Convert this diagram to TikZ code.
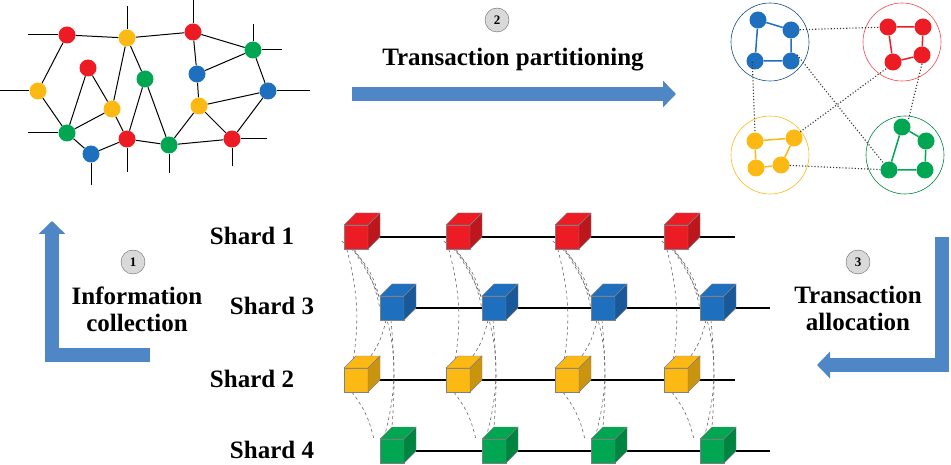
\documentclass[tikz,border=0pt]{standalone}
\usepackage{fontspec}
\setmainfont{Liberation Serif}
\usetikzlibrary{arrows.meta,shapes.geometric,backgrounds}
\definecolor{cR}{HTML}{ED1C24}
\definecolor{cB}{HTML}{1F6FBF}
\definecolor{cY}{HTML}{FDB913}
\definecolor{cG}{HTML}{00A651}
\definecolor{cA}{HTML}{4F86C6}
\tikzset{
 gn/.style={circle,minimum size=17pt,inner sep=0,fill=#1},
 cn/.style={circle,minimum size=17pt,inner sep=0,fill=#1},
 ed/.style={line width=1pt,black},
 ring/.style={draw=#1,line width=0.6pt,circle,minimum size=78pt,inner sep=0},
 dots/.style={dotted,line width=1.1pt,black!80},
 big/.style={line width=14pt,cA,-{Triangle[length=13pt,width=26pt]}},
 num/.style={circle,draw=black!60,fill=black!15,minimum size=24pt,inner sep=0,font=\fontsize{13}{14}\selectfont\bfseries},
 lab/.style={font=\fontsize{25}{27}\selectfont\bfseries,align=center},
 sl/.style={ed,line width=1.2pt},
 dc/.style={dashed,black!60,line width=0.6pt},
 pics/cube/.style={code={
   \node[rectangle,minimum size=24pt,inner sep=0,fill=#1,draw=black!50,line width=0.4pt] (-f) at (0,0) {};
   \fill[#1,draw=black!50,line width=0.4pt] (-12,-12)--(0,-24)--(24,-24)--(12,-12)--cycle;
   \fill[#1!80!black,draw=black!50,line width=0.4pt] (12,-12)--(24,-24)--(24,0)--(12,12)--cycle;
 }}
}
\begin{document}
\begin{tikzpicture}[x=1pt,y=-1pt]
\useasboundingbox (0,0) rectangle (951,465);
% graph
\foreach \n/\x/\y/\c in {r1/67/35/cR,y1/127/38/cY,r2/193/32/cR,g1/253/50/cG,r3/88/68/cR,g2/145/79/cG,b1/197/74/cB,b2/268/91/cB,y2/38/91/cY,y3/112/109/cY,y4/199/106/cY,g3/67/133/cG,r4/127/139/cR,g4/169/145/cG,r5/232/139/cR,b3/91/154/cB}
  \node[gn=\c] (\n) at (\x,\y) {};
\foreach \n/\x/\y in {s1/28/35,s2/127/6,s3/193/0,s4/253/24,s5/282/50,s6/0/91,s7/310/91,s8/28/133,s9/91/185,s10/127/172,s11/169/173,s12/267/139,s13/232/166}
  \coordinate (\n) at (\x,\y);
\begin{scope}[on background layer]
\foreach \a/\b in {r1/y1,y1/r2,r2/g1,r2/b1,b1/g1,g1/b2,b1/y4,y4/b2,b2/r5,y4/r5,y4/g4,r5/g4,g4/r4,g2/g4,g2/y1,g2/r4,y1/y3,r3/y3,y3/r4,r3/g3,y3/g3,r1/y2,y2/g3,g3/b3,b3/r4,
 r1/s1,y1/s2,r2/s3,g1/s4,g1/s5,y2/s6,b2/s7,g3/s8,b3/s9,r4/s10,g4/s11,r5/s12,r5/s13}
  \draw[ed] (\a) -- (\b);
\end{scope}
% clusters
\node[ring=cB!70!black] (CB) at (770,42) {};
\node[ring=cR!80] (CR) at (902,42) {};
\node[ring=cY] (CY) at (770,155) {};
\node[ring=cG!80!black] (CG) at (905,155) {};
\foreach \n/\x/\y/\c in {B1/758/20/cB,B2/791/30/cB,B3/755/61/cB,B4/791/61/cB,R1/888/27/cR,R2/923/27/cR,R3/893/62/cR,R4/922/55/cR,Y1/755/141/cY,Y2/794/138/cY,Y3/756/168/cY,Y4/781/165/cY,G1/902/127/cG,G2/926/141/cG,G3/889/170/cG,G4/925/170/cG}
  \node[cn=\c] (\n) at (\x,\y) {};
\begin{scope}[on background layer]
\draw[cB,line width=1.5pt] (B1)--(B2)--(B4)--(B3)--(B1);
\draw[cR,line width=1.5pt] (R1)--(R2)--(R4)--(R3)--(R1);
\draw[cY,line width=1.5pt] (Y1)--(Y2)--(Y4)--(Y3)--(Y1);
\draw[cG,line width=1.5pt] (G1)--(G2)--(G4)--(G3)--(G1);
\end{scope}
\draw[dots] (B2)--(R1);
\draw[dots] (B4.north east)--(G3);
\draw[dots] (CB.south west) ++(10,-8) -- (Y1.north);
\draw[dots] (Y2.north east)--(R3.south west);
\draw[dots] (R4.south)--(G1.north east);
\draw[dots] (Y4)--(G3);
% arrows
\coordinate (a2s) at (352,94); \coordinate (a2e) at (676,94);
\draw[big] (a2s) -- (a2e);
\node[num] (n2) at (497,20) {2};
\node[lab] (t2) at (513,60) {Transaction partitioning};
\coordinate (a1s) at (150,355); \coordinate (a1c) at (52,355); \coordinate (a1e) at (52,221);
\draw[big,-] (a1s) -- (45,355);
\draw[big] (a1c) -- (a1e);
\node[num] (n1) at (133,262) {1};
\node[lab] (t1) at (137,309) {Information\\collection};
\coordinate (a3s) at (942,237); \coordinate (a3c) at (942,365); \coordinate (a3e) at (817,365);
\draw[big,-] (a3s) -- (942,372);
\draw[big] (a3c) -- (a3e);
\node[num] (n3) at (858,262) {3};
\node[lab] (t3) at (858,308) {Transaction\\allocation};
% shards
\node[lab] (L1) at (252,236) {Shard 1};
\node[lab] (L3) at (272,306) {Shard 3};
\node[lab] (L2) at (252,379) {Shard 2};
\node[lab] (L4) at (272,450) {Shard 4};
\coordinate (e1) at (735,237); \coordinate (e3) at (770,308);
\coordinate (e2) at (735,380); \coordinate (e4) at (770,451);
\foreach \i/\x in {1/356,2/458,3/567,4/676}{
  \pic (r\i) at (\x,237) {cube=cR};
  \pic (y\i) at (\x,380) {cube=cY};
}
\foreach \i/\x in {1/392,2/494,3/603,4/712}{
  \pic (b\i) at (\x,308) {cube=cB};
  \pic (g\i) at (\x,451) {cube=cG};
}
\begin{scope}[on background layer]
\draw[sl] (r1-f.east)--(r2-f.west) (r2-f.east)--(r3-f.west) (r3-f.east)--(r4-f.west) (r4-f.east)--(e1);
\draw[sl] (b1-f.east)--(b2-f.west) (b2-f.east)--(b3-f.west) (b3-f.east)--(b4-f.west) (b4-f.east)--(e3);
\draw[sl] (y1-f.east)--(y2-f.west) (y2-f.east)--(y3-f.west) (y3-f.east)--(y4-f.west) (y4-f.east)--(e2);
\draw[sl] (g1-f.east)--(g2-f.west) (g2-f.east)--(g3-f.west) (g3-f.east)--(g4-f.west) (g4-f.east)--(e4);
\foreach \i in {1,2,3,4}{
  \draw[dc] (r\i-f.west) to[bend left=28] (g\i-f.west);
  \draw[dc] ([xshift=3]r\i-f.south west) to[bend left=12] ([xshift=-4]y\i-f.north);
  \draw[dc] ([xshift=-2]r\i-f.south) to[bend left=12] (b\i-f.west);
  \draw[dc] ([xshift=-6]b\i-f.south) to[bend left=15] ([xshift=5]y\i-f.north);
  \draw[dc] ([xshift=-1]b\i-f.south) to[bend left=5] ([xshift=-1]g\i-f.north);
  \draw[dc] ([xshift=-4]y\i-f.south) to[bend left=12] ([xshift=-6]g\i-f.north west);
  \draw[dc] (r\i-f.south west) ++(-2,-8) to[bend left=20] ([yshift=-4]b\i-f.north west);
}
\end{scope}
\end{tikzpicture}
\end{document}
